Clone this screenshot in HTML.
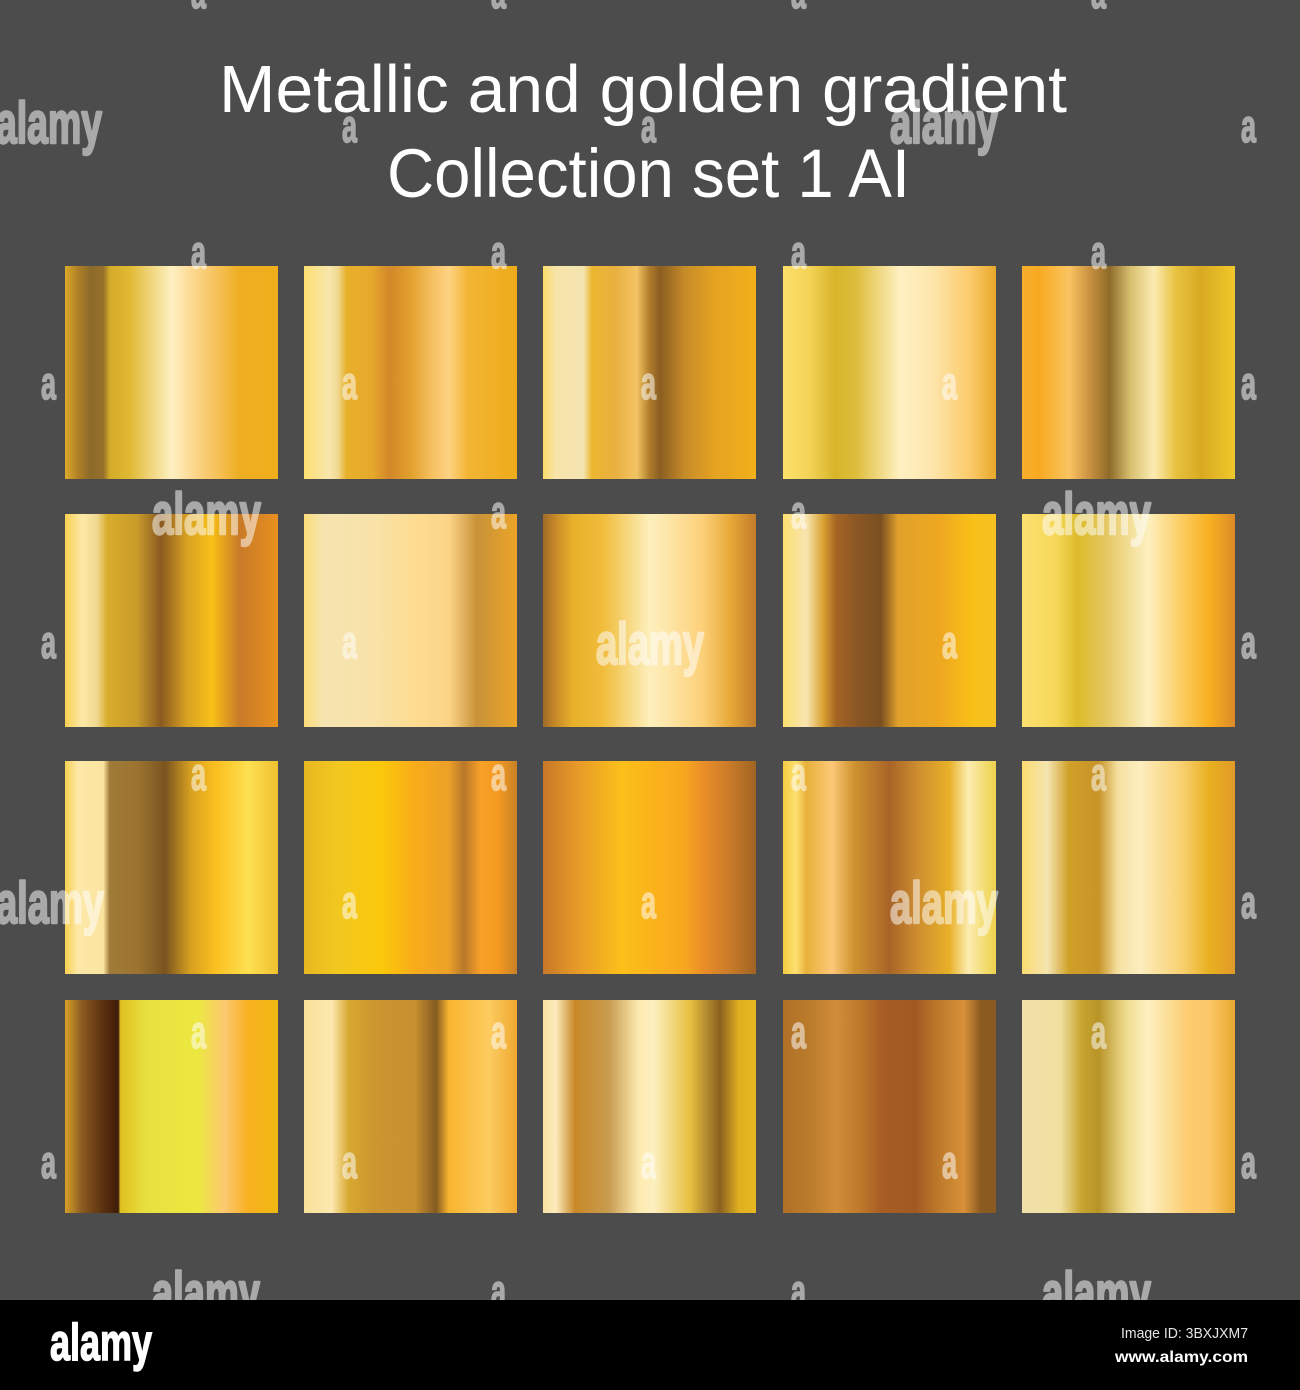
<!DOCTYPE html>
<html>
<head>
<meta charset="utf-8">
<style>
  html,body{margin:0;padding:0;}
  body{width:1300px;height:1390px;background:#4b4c4b;position:relative;overflow:hidden;font-family:"Liberation Sans",sans-serif;}
  .sw{position:absolute;width:213px;height:213px;}
  .c1{left:65px}.c2{left:304px}.c3{left:543px}.c4{left:783px}.c5{left:1022px}
  .r1{top:266px}.r2{top:514px}.r3{top:761px}.r4{top:1000px}
  svg{position:absolute;left:0;top:0;}
</style>
</head>
<body>
<div class="sw r1 c1" style="background:linear-gradient(90deg,#dcaa28 0%,#b08026 6%,#8c6a2a 12%,#94702a 18%,#d4aa2a 21%,#e0b830 30%,#f0d47a 40%,#fdf0c2 50%,#fdd890 60%,#f6c460 70%,#eeae22 82%,#efae1a 100%)"></div>
<div class="sw r1 c2" style="background:linear-gradient(90deg,#fde070 0%,#f8e6ae 12%,#f0d890 16%,#e8b02a 20%,#e6a82c 32%,#d2882a 40%,#e2a02c 50%,#f6c060 60%,#fed282 68%,#f2b434 77%,#eeac1a 100%)"></div>
<div class="sw r1 c3" style="background:linear-gradient(90deg,#fbdc6a 0%,#f6e4aa 6%,#f4e4b0 19%,#ecb630 23%,#eab040 34%,#f2c464 44%,#b07c2a 50%,#8a5e22 55%,#c48a28 66%,#e4a222 80%,#f2b01a 100%)"></div>
<div class="sw r1 c4" style="background:linear-gradient(90deg,#fce06a 0%,#f4d458 12%,#d8b52a 24%,#dcbc3a 34%,#f0d880 45%,#fef0c2 55%,#fde6ac 70%,#fcca6a 88%,#e8a82a 100%)"></div>
<div class="sw r1 c5" style="background:linear-gradient(90deg,#f6ae2c 0%,#f7aa20 8%,#fbc462 22%,#c89040 32%,#8e6a28 41%,#d8c070 51%,#fcecb2 62%,#e8c240 72%,#d8aa22 84%,#f0c82a 100%)"></div>

<div class="sw r2 c1" style="background:linear-gradient(90deg,#f8d050 0%,#fde9a8 8%,#f0d890 15%,#d8ac2a 20%,#c89a2a 34%,#8a5a20 45%,#d8a022 57%,#f8c018 69%,#c87a28 82%,#e8901f 100%)"></div>
<div class="sw r2 c2" style="background:linear-gradient(90deg,#fcdc78 0%,#f5e4b0 9%,#f8e2a8 33%,#fddc90 52%,#fcd488 68%,#c89238 81%,#eca428 100%)"></div>
<div class="sw r2 c3" style="background:linear-gradient(90deg,#a06a28 0%,#c88a28 6%,#e8b02a 14%,#f0bc3a 28%,#f8d880 40%,#fdefbc 50%,#fde4a4 60%,#fcd078 75%,#e8a838 88%,#c27c2a 100%)"></div>
<div class="sw r2 c4" style="background:linear-gradient(90deg,#fce070 0%,#f8e4b0 11%,#d8a030 19%,#a46424 25%,#8a5624 35%,#7a5020 46%,#e0a02a 54%,#eea820 74%,#f8c018 89%,#f8c020 100%)"></div>
<div class="sw r2 c5" style="background:linear-gradient(90deg,#fce070 0%,#f6d858 16%,#dcbc2a 26%,#e4c660 39%,#fdf0c0 59%,#fccc60 75%,#f8b020 88%,#dc8a28 100%)"></div>

<div class="sw r3 c1" style="background:linear-gradient(90deg,#f8d050 0%,#fde8a8 6%,#fbe4a0 18%,#a07a38 21%,#9c7430 34%,#7a5420 47%,#d8a020 59%,#fbc020 71%,#fde050 86%,#f0c030 100%)"></div>
<div class="sw r3 c2" style="background:linear-gradient(90deg,#e8b820 0%,#f2c820 17%,#fbc80a 36%,#f8ac1a 52%,#eca028 68%,#b8782a 75%,#f8a028 83%,#f49a20 91%,#c88028 100%)"></div>
<div class="sw r3 c3" style="background:linear-gradient(90deg,#c87828 0%,#e89c28 17%,#fbc01a 37%,#fbb41a 50%,#f8a820 66%,#e88c28 76%,#c87a28 88%,#a06424 100%)"></div>
<div class="sw r3 c4" style="background:linear-gradient(90deg,#f4cc40 0%,#fde070 6%,#e8b03a 11%,#fcc878 23%,#d09430 33%,#a86428 50%,#d09030 64%,#e8b028 78%,#fcecb0 87%,#f0d860 97%,#f0d050 100%)"></div>
<div class="sw r3 c5" style="background:linear-gradient(90deg,#fcdc70 0%,#f4e4b0 12%,#d0a028 22%,#c89428 36%,#f4e0a0 45%,#fdeec0 55%,#f8d070 75%,#e8b020 88%,#e09a28 100%)"></div>

<div class="sw r4 c1" style="background:linear-gradient(90deg,#d8a028 0%,#8a5a20 8%,#5a3010 18%,#3e1c08 25%,#e0c020 26%,#e8e040 38%,#ece840 62%,#fcc870 75%,#f8b020 86%,#f0b810 100%)"></div>
<div class="sw r4 c2" style="background:linear-gradient(90deg,#f8e098 0%,#fde9b0 13%,#d8a830 21%,#cc9630 33%,#c89030 52%,#845a20 62%,#f8b430 68%,#fccc60 87%,#f0a830 100%)"></div>
<div class="sw r4 c3" style="background:linear-gradient(90deg,#f8e0a0 0%,#fdebbc 6%,#c88828 15%,#c89c50 31%,#fdeab0 45%,#fdf0c0 52%,#e8c040 69%,#8a6020 83%,#e0b020 92%,#e8b820 100%)"></div>
<div class="sw r4 c4" style="background:linear-gradient(90deg,#b07028 0%,#b87a2a 11%,#d08c38 25%,#c07c2c 35%,#a85e24 46%,#a05a22 62%,#c07c2c 74%,#d89038 85%,#8a5a20 93%,#8a5a22 100%)"></div>
<div class="sw r4 c5" style="background:linear-gradient(90deg,#f0e0a8 0%,#f0e0a0 18%,#c8a430 28%,#b89428 36%,#f0dc90 49%,#fdf0c0 59%,#fccc70 78%,#fcc868 88%,#e8a830 100%)"></div>

<svg width="1300" height="1390" viewBox="0 0 1300 1390" xmlns="http://www.w3.org/2000/svg">
  <g opacity="0.52" fill="#ffffff" stroke="#ffffff" stroke-width="1.6" stroke-linejoin="round" font-family="Liberation Sans, sans-serif" font-weight="bold" font-size="46">
    <text x="191" y="8" textLength="15" lengthAdjust="spacingAndGlyphs">a</text>
    <text x="491" y="8" textLength="15" lengthAdjust="spacingAndGlyphs">a</text>
    <text x="791" y="8" textLength="15" lengthAdjust="spacingAndGlyphs">a</text>
    <text x="1091" y="8" textLength="15" lengthAdjust="spacingAndGlyphs">a</text>
    <text x="342" y="142" textLength="15" lengthAdjust="spacingAndGlyphs">a</text>
    <text x="641" y="142" textLength="15" lengthAdjust="spacingAndGlyphs">a</text>
    <text x="1241" y="142" textLength="15" lengthAdjust="spacingAndGlyphs">a</text>
    <text x="191" y="268" textLength="15" lengthAdjust="spacingAndGlyphs">a</text>
    <text x="491" y="268" textLength="15" lengthAdjust="spacingAndGlyphs">a</text>
    <text x="791" y="268" textLength="15" lengthAdjust="spacingAndGlyphs">a</text>
    <text x="1091" y="268" textLength="15" lengthAdjust="spacingAndGlyphs">a</text>
    <text x="41" y="399" textLength="15" lengthAdjust="spacingAndGlyphs">a</text>
    <text x="342" y="399" textLength="15" lengthAdjust="spacingAndGlyphs">a</text>
    <text x="641" y="399" textLength="15" lengthAdjust="spacingAndGlyphs">a</text>
    <text x="942" y="399" textLength="15" lengthAdjust="spacingAndGlyphs">a</text>
    <text x="1241" y="399" textLength="15" lengthAdjust="spacingAndGlyphs">a</text>
    <text x="491" y="528" textLength="15" lengthAdjust="spacingAndGlyphs">a</text>
    <text x="791" y="528" textLength="15" lengthAdjust="spacingAndGlyphs">a</text>
    <text x="41" y="658" textLength="15" lengthAdjust="spacingAndGlyphs">a</text>
    <text x="342" y="658" textLength="15" lengthAdjust="spacingAndGlyphs">a</text>
    <text x="942" y="658" textLength="15" lengthAdjust="spacingAndGlyphs">a</text>
    <text x="1241" y="658" textLength="15" lengthAdjust="spacingAndGlyphs">a</text>
    <text x="191" y="790" textLength="15" lengthAdjust="spacingAndGlyphs">a</text>
    <text x="491" y="790" textLength="15" lengthAdjust="spacingAndGlyphs">a</text>
    <text x="791" y="790" textLength="15" lengthAdjust="spacingAndGlyphs">a</text>
    <text x="1091" y="790" textLength="15" lengthAdjust="spacingAndGlyphs">a</text>
    <text x="342" y="918" textLength="15" lengthAdjust="spacingAndGlyphs">a</text>
    <text x="641" y="918" textLength="15" lengthAdjust="spacingAndGlyphs">a</text>
    <text x="1241" y="918" textLength="15" lengthAdjust="spacingAndGlyphs">a</text>
    <text x="191" y="1048" textLength="15" lengthAdjust="spacingAndGlyphs">a</text>
    <text x="491" y="1048" textLength="15" lengthAdjust="spacingAndGlyphs">a</text>
    <text x="791" y="1048" textLength="15" lengthAdjust="spacingAndGlyphs">a</text>
    <text x="1091" y="1048" textLength="15" lengthAdjust="spacingAndGlyphs">a</text>
    <text x="41" y="1178" textLength="15" lengthAdjust="spacingAndGlyphs">a</text>
    <text x="342" y="1178" textLength="15" lengthAdjust="spacingAndGlyphs">a</text>
    <text x="641" y="1178" textLength="15" lengthAdjust="spacingAndGlyphs">a</text>
    <text x="942" y="1178" textLength="15" lengthAdjust="spacingAndGlyphs">a</text>
    <text x="1241" y="1178" textLength="15" lengthAdjust="spacingAndGlyphs">a</text>
    <text x="491" y="1307" textLength="15" lengthAdjust="spacingAndGlyphs">a</text>
    <text x="791" y="1307" textLength="15" lengthAdjust="spacingAndGlyphs">a</text>
  </g>
  <g opacity="0.52" fill="#ffffff" stroke="#ffffff" stroke-width="2.4" stroke-linejoin="round" font-family="Liberation Sans, sans-serif" font-weight="bold" font-size="58">
    <text x="-4" y="143" textLength="106" lengthAdjust="spacingAndGlyphs">alamy</text>
    <text x="890" y="143" textLength="108" lengthAdjust="spacingAndGlyphs">alamy</text>
    <text x="152" y="534" textLength="109" lengthAdjust="spacingAndGlyphs">alamy</text>
    <text x="1042" y="534" textLength="109" lengthAdjust="spacingAndGlyphs">alamy</text>
    <text x="596" y="664" textLength="108" lengthAdjust="spacingAndGlyphs">alamy</text>
    <text x="-4" y="923" textLength="108" lengthAdjust="spacingAndGlyphs">alamy</text>
    <text x="890" y="923" textLength="108" lengthAdjust="spacingAndGlyphs">alamy</text>
    <text x="152" y="1313" textLength="108" lengthAdjust="spacingAndGlyphs">alamy</text>
    <text x="1042" y="1313" textLength="109" lengthAdjust="spacingAndGlyphs">alamy</text>
  </g>
  <g fill="#ffffff" font-family="Liberation Sans, sans-serif" font-size="67">
    <text x="219" y="112" textLength="848" lengthAdjust="spacingAndGlyphs">Metallic and golden gradient</text>
    <text x="387" y="197" font-size="69" textLength="523" lengthAdjust="spacingAndGlyphs">Collection set 1 AI</text>
  </g>
  <rect x="0" y="1300" width="1300" height="90" fill="#000000"/>
  <text x="50" y="1360" fill="#ffffff" stroke="#ffffff" stroke-width="1.5" font-family="Liberation Sans, sans-serif" font-weight="bold" font-size="52" textLength="102" lengthAdjust="spacingAndGlyphs">alamy</text>
  <text x="1121" y="1338" fill="#e6e6e6" font-family="Liberation Sans, sans-serif" font-size="15" textLength="127" lengthAdjust="spacingAndGlyphs">Image ID: 3BXJXM7</text>
  <text x="1115" y="1362" fill="#ffffff" font-family="Liberation Sans, sans-serif" font-weight="bold" font-size="16" textLength="133" lengthAdjust="spacingAndGlyphs">www.alamy.com</text>
</svg>
</body>
</html>
